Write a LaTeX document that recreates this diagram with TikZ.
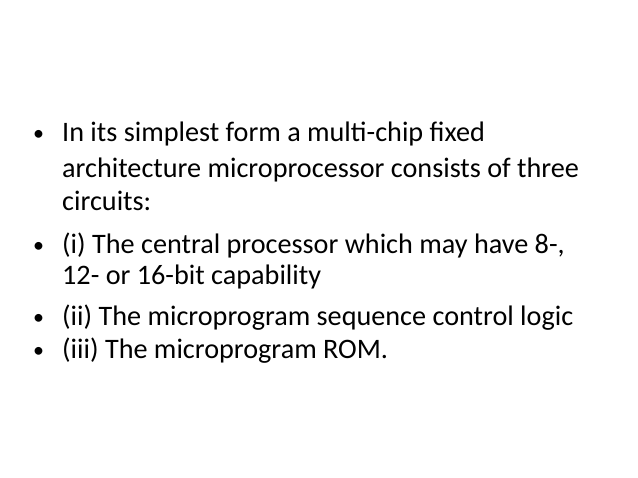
\documentclass[tikz,border=0pt]{standalone}
\usepackage{fontspec}
\setmainfont{Carlito}
\begin{document}
\begin{tikzpicture}[x=1pt,y=-1pt,
  txt/.style={anchor=base west,inner sep=0pt,font=\fontsize{28.2}{32}\selectfont},
  bul/.style={anchor=base west,inner sep=0pt,font=\fontsize{22}{26}\selectfont}]
\useasboundingbox (0,0) rectangle (638,478);
\node[bul] (b1) at (33,141) {•};
\node[txt] (l1) at (62,142) {In its simplest form a multi-chip fixed};
\node[txt] (l2) at (62,178) {architecture microprocessor consists of three};
\node[txt] (l3) at (62,211) {circuits:};
\node[bul] (b2) at (33,253) {•};
\node[txt] (l4) at (62,254) {(i) The central processor which may have 8-,};
\node[txt] (l5) at (62,285) {12- or 16-bit capability};
\node[bul] (b3) at (33,325) {•};
\node[txt] (l6) at (62,326) {(ii) The microprogram sequence control logic};
\node[bul] (b4) at (33,358) {•};
\node[txt] (l7) at (62,359) {(iii) The microprogram ROM.};
\end{tikzpicture}
\end{document}
